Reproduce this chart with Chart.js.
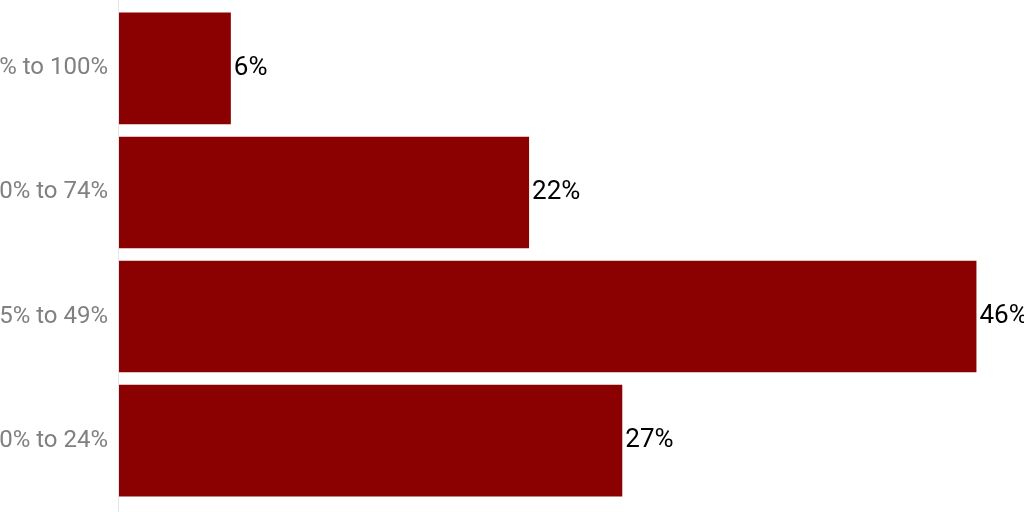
<!DOCTYPE html>
<html>
<head>
<meta charset="utf-8">
<script src="https://cdn.jsdelivr.net/npm/chart.js@4/dist/chart.umd.min.js"></script>
<style>
  html, body { margin: 0; padding: 0; background: #fff; overflow: hidden; }
  #wrap { position: absolute; left: -80px; top: -19px; width: 1131px; height: 547px; }
</style>
</head>
<body>
<div id="wrap"><canvas id="bars_canvas"></canvas></div>
<script>
const categories = ['75% to 100%', '50% to 74%', '25% to 49%', '0% to 24%'];
const shares = [6, 22, 46, 27];

const BAR_COLOR = '#8b0000';

// value labels at the end of each bar
const value_labels = {
  id: 'value_labels',
  afterDatasetsDraw(chart) {
    const ctx = chart.ctx;
    const meta = chart.getDatasetMeta(0);
    ctx.save();
    ctx.font = '26px Roboto';
    ctx.fillStyle = '#000';
    ctx.textAlign = 'left';
    ctx.textBaseline = 'middle';
    meta.data.forEach((bar, i) => {
      ctx.fillText(shares[i] + '%', bar.x + 3, bar.y);
    });
    ctx.restore();
  }
};

// thin baseline running the full canvas height
const base_line = {
  id: 'base_line',
  beforeDatasetsDraw(chart) {
    const ctx = chart.ctx;
    const x = Math.round(chart.scales.x.getPixelForValue(0)) - 0.5;
    ctx.save();
    ctx.strokeStyle = '#e6e6e6';
    ctx.lineWidth = 1;
    ctx.beginPath();
    ctx.moveTo(x, 0);
    ctx.lineTo(x, chart.height);
    ctx.stroke();
    ctx.restore();
  }
};

new Chart(document.getElementById('bars_canvas'), {
  type: 'bar',
  data: {
    labels: categories,
    datasets: [{
      data: shares,
      backgroundColor: BAR_COLOR,
      borderWidth: 0,
      barPercentage: 0.9,
      categoryPercentage: 1
    }]
  },
  options: {
    indexAxis: 'y',
    responsive: true,
    maintainAspectRatio: false,
    animation: false,
    layout: { padding: { top: 7, bottom: 9, left: 0, right: 0 } },
    plugins: {
      legend: { display: false },
      tooltip: { enabled: false }
    },
    scales: {
      x: {
        display: false,
        min: 0,
        max: 50
      },
      y: {
        grid: { display: false, drawTicks: false },
        border: { display: false },
        ticks: {
          color: '#808080',
          font: { family: 'Roboto', size: 24 },
          padding: 11
        },
        afterFit(scale) { scale.width = 199; }
      }
    }
  },
  plugins: [base_line, value_labels]
});
</script>
</body>
</html>
